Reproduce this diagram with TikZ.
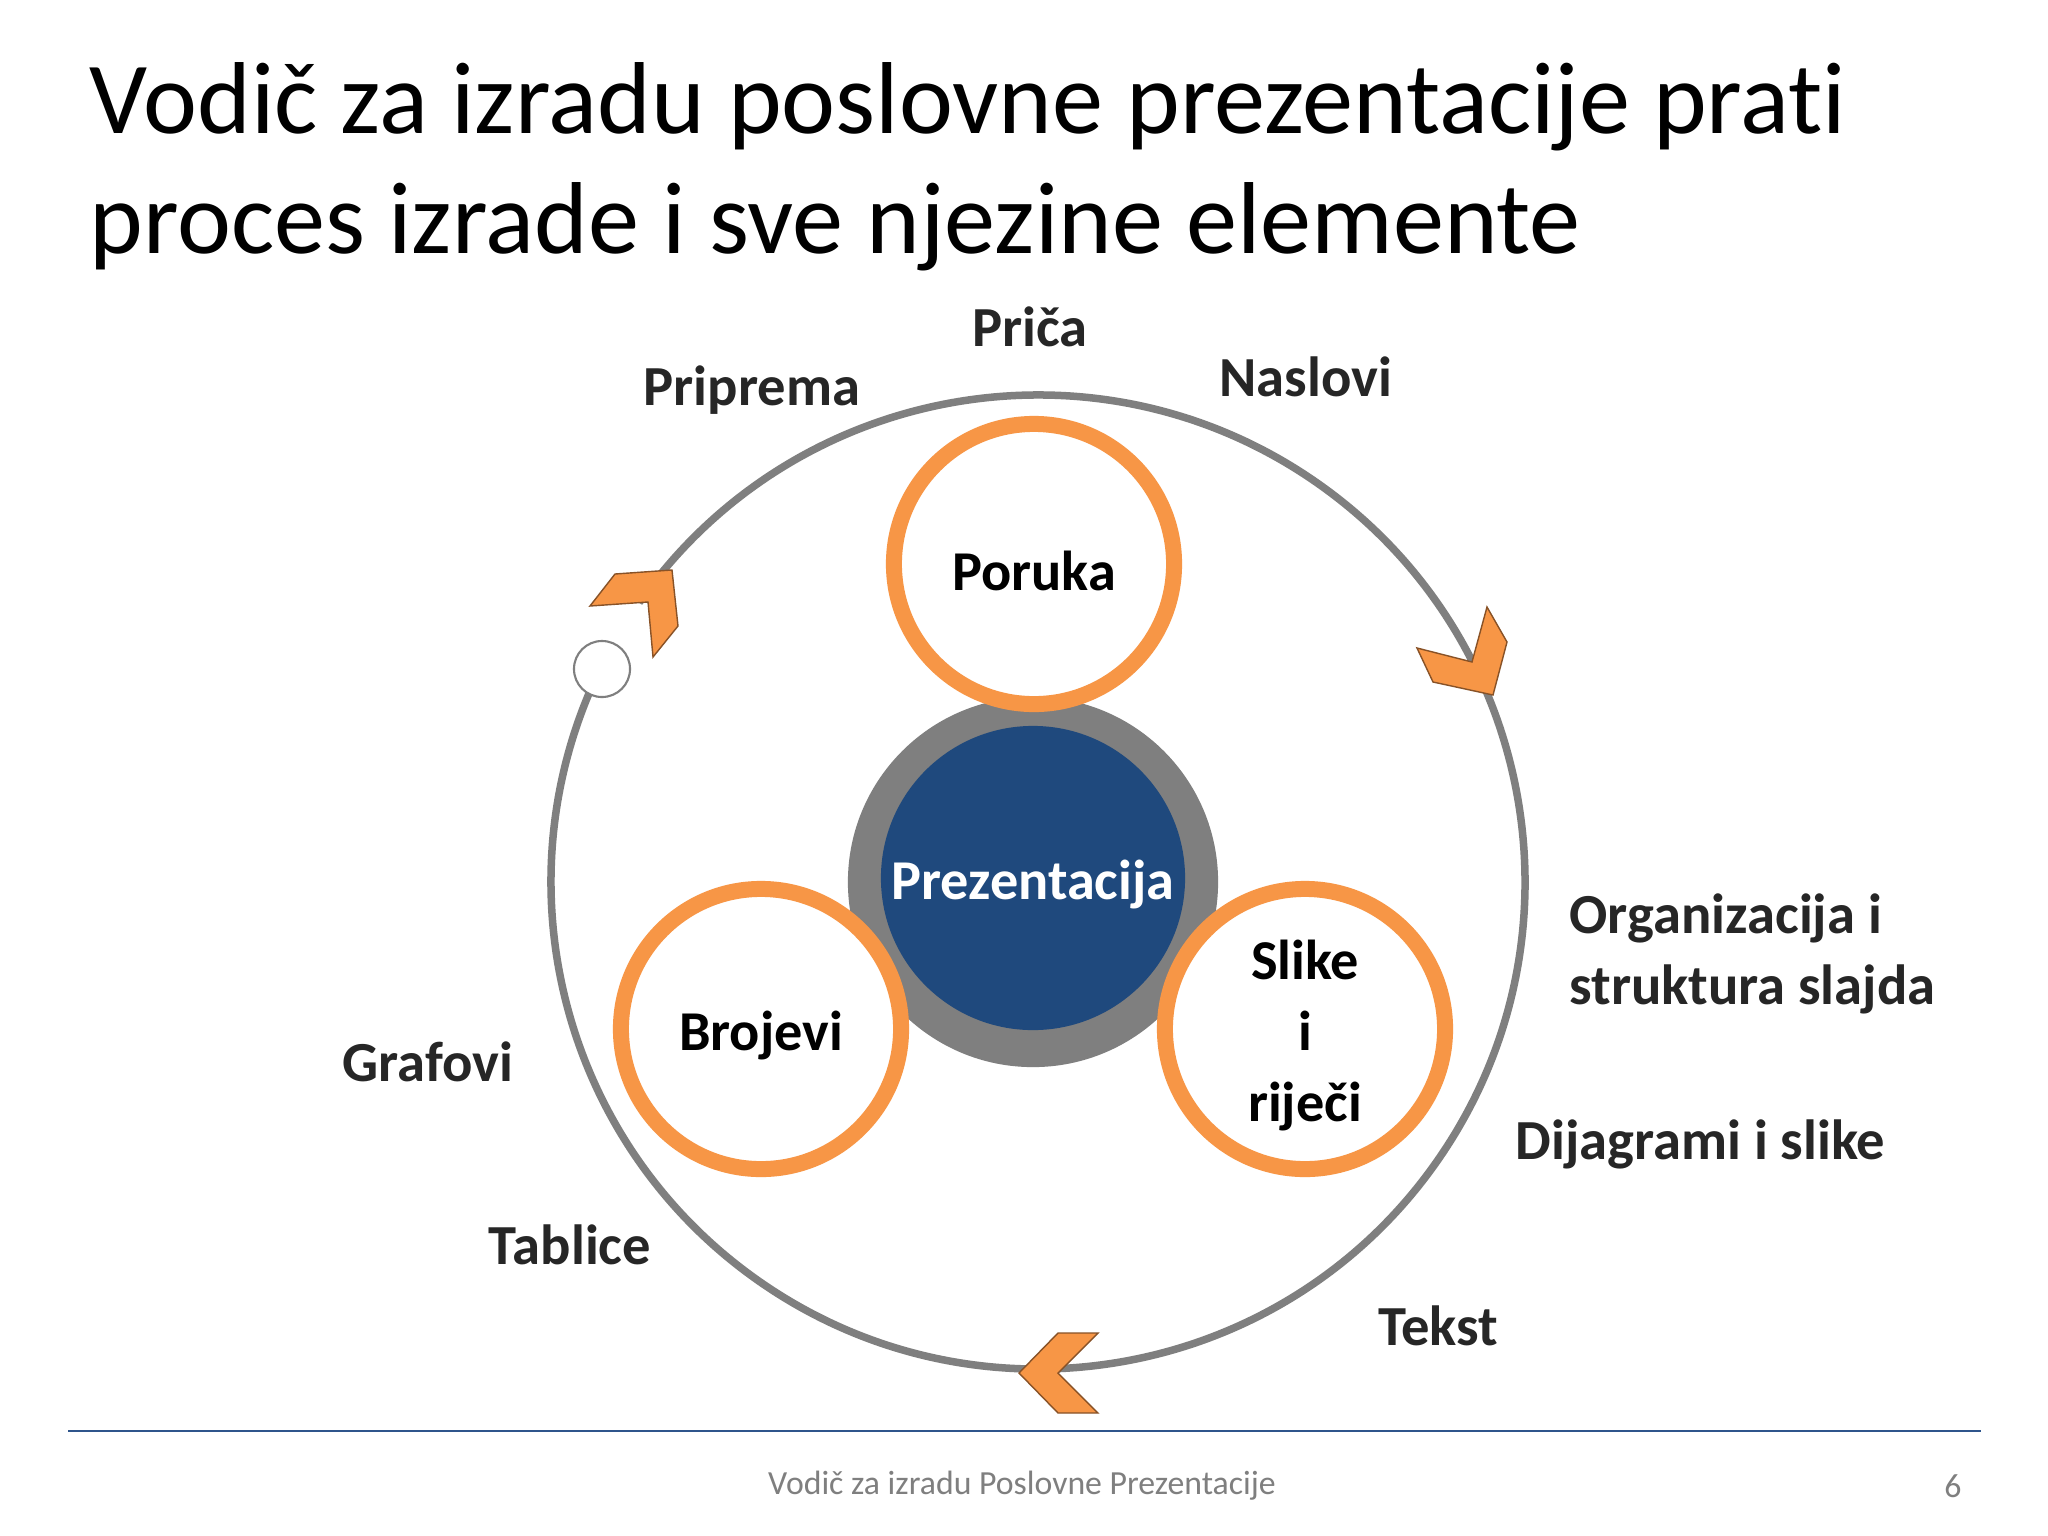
\documentclass[tikz,border=0pt]{standalone}
\usepackage{fontspec}
\setmainfont{Carlito}[Ligatures=NoCommon]
\usetikzlibrary{positioning}
\definecolor{slideorange}{RGB}{247,150,70}
\definecolor{slideblue}{RGB}{31,73,125}
\definecolor{slidegray}{RGB}{127,127,127}
\definecolor{slidetext}{RGB}{38,38,38}
\definecolor{slideline}{RGB}{47,85,140}

\begin{document}
\begin{tikzpicture}[
    x=0.01cm, y=-0.01cm,
    ring/.style={circle, draw=slideorange, line width=0.16cm, fill=white, minimum size=2.8cm, inner sep=0pt},
    ringtext/.style={inner sep=0pt, align=center, yshift=-0.065cm, font=\fontsize{16}{20.2}\selectfont\bfseries},
    hub/.style={circle, fill=slidegray, minimum size=3.7cm, inner sep=0pt},
    core/.style={circle, fill=slideblue, minimum size=3.04cm, inner sep=0pt},
    itemtext/.style={text=slidetext, inner sep=0pt, align=left, font=\fontsize{16.1}{20.2}\selectfont\bfseries},
    titletext/.style={anchor=base west, inner sep=0pt, font=\fontsize{29.07}{34}\selectfont},
    chevron/.style={fill=slideorange, draw=slideorange!55!black, line width=0.4pt}
]
\fill[white] (0,0) rectangle (2048,1536);
\useasboundingbox (0,0) rectangle (2048,1536);

% Title
\node[titletext] (title) at (89,133) {Vodič za izradu poslovne prezentacije prati};
\node[titletext] (title2) at (89,253) {proces izrade i sve njezine elemente};

% Outer cycle
\coordinate (wheel) at (1038,882);
\draw[slidegray, line width=0.075cm] (wheel) ++(215:487) arc[start angle=215, end angle=566, radius=487];
\draw[chevron] (615,574) -- (672,570) -- (678,626) -- (653,657) -- (648,602) -- (590,606) -- cycle;
\draw[chevron] (1487,607) -- (1507,642) -- (1493,695) -- (1433,682) -- (1417,648) -- (1472,662) -- cycle;
\draw[chevron] (1058,1333) -- (1098,1333) -- (1058,1373) -- (1098,1413) -- (1058,1413) -- (1019,1373) -- cycle;
\node[circle, draw=slidegray, fill=white, line width=0.6pt, minimum size=0.56cm, inner sep=0pt] (start) at (602,669) {};

% Centre and rings
\node[hub] (hub) at (1033,882) {};
\node[core] (core) at (1033,878) {};
\node[ringtext, text=white] (core text) at (core) {Prezentacija};
\node[ring] (poruka) at (1034,564) {};
\node[ring] (brojevi) at (761,1029) {};
\node[ring] (slike) at (1305,1029) {};
\node[ringtext] (poruka text) at (poruka) {Poruka};
\node[ringtext] (brojevi text) at (brojevi) {Brojevi};
\node[ringtext] (slike text) at (slike) {Slike\\i\\riječi};

% Steps round the cycle
\node[itemtext] (prica) at (1030,327) {Priča};
\node[itemtext] (priprema) at (752,390) {Priprema};
\node[itemtext] (naslovi) at (1306,377) {Naslovi};
\node[itemtext, anchor=west] (organizacija) at (1569,954) {Organizacija i\\struktura slajda};
\node[itemtext, anchor=west] (dijagrami) at (1515,1144) {Dijagrami i slike};
\node[itemtext] (tekst) at (1438,1326) {Tekst};
\node[itemtext] (tablice) at (570,1245) {Tablice};
\node[itemtext] (grafovi) at (428,1062) {Grafovi};

% Footer
\coordinate (rule west) at (68,1431);
\coordinate (rule east) at (1981,1431);
\draw[slideline, line width=0.025cm] (rule west) -- (rule east);
\node[text=slidegray, font=\fontsize{9.6}{11}\selectfont] (footer) at (1022,1486) {Vodič za izradu Poslovne Prezentacije};
\node[text=slidegray, font=\fontsize{9.6}{11}\selectfont] (page) at (1953,1486) {6};

\end{tikzpicture}
\end{document}
